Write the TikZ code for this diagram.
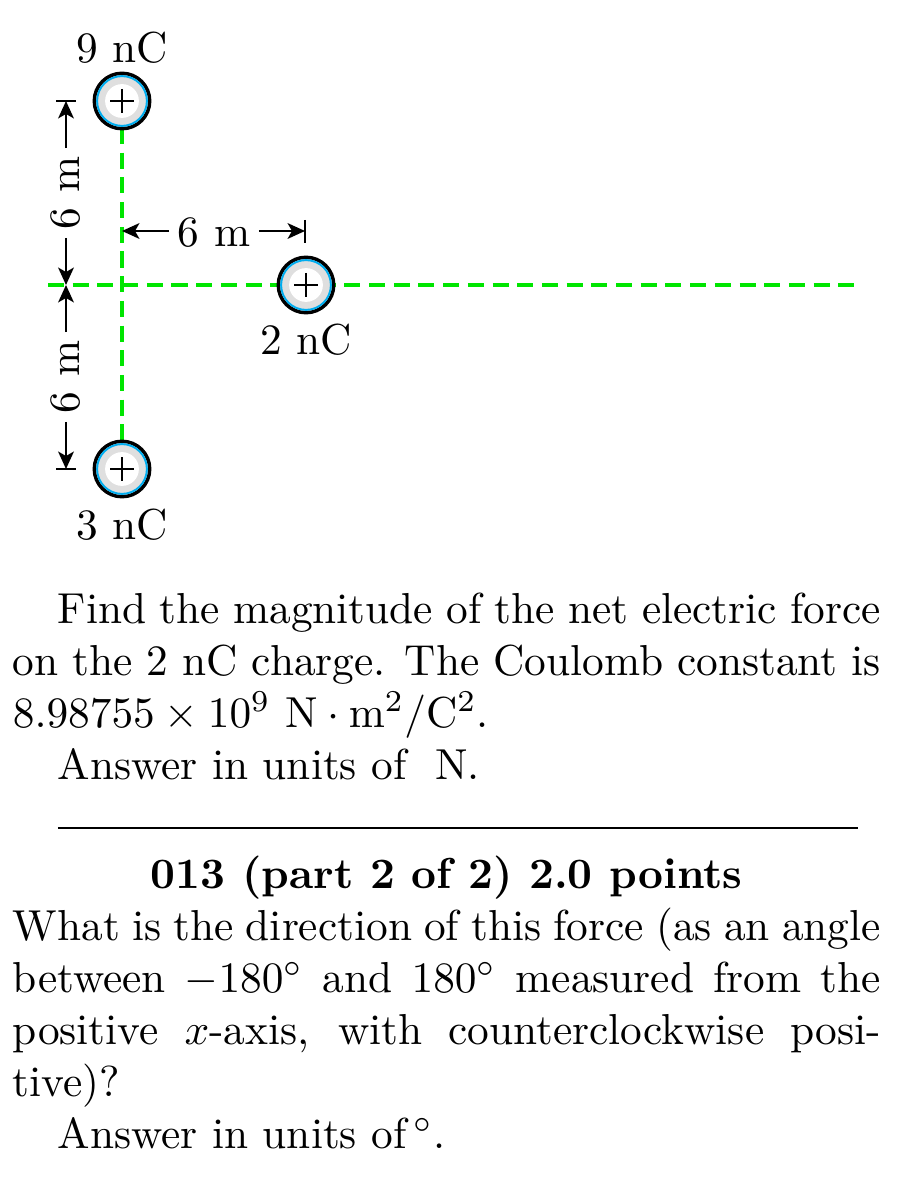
\documentclass[tikz,border=0pt]{standalone}
\usetikzlibrary{arrows.meta}
\begin{document}
\begin{tikzpicture}[x=0.2308pt,y=-0.2308pt,
  dashg/.style={green!90!black,line width=0.7pt,dash pattern=on 3.7pt off 2pt},
  dim/.style={line width=0.6pt,-{Stealth[length=4pt,width=3.6pt,inset=1pt]}},
  lbl/.style={inner sep=0pt,font=\normalsize}]
\useasboundingbox (0,0) rectangle (902,1181);
\draw[dashg] (48,285) -- (860,285);
\draw[dashg] (122,128) -- (122,442);
\foreach \n/\x/\y in {a/122/101,b/306/285,c/122/469}{
  \node[circle,minimum size=12.8pt,inner sep=0pt,draw=black,line width=0.8pt,fill=gray!25] (\n) at (\x,\y) {};
  \draw[cyan,line width=0.45pt] (\x,\y) circle (5.75pt);
  \fill[white] (\x,\y) circle (3.9pt);
  \draw[line width=0.4pt] (\x-12,\y) -- (\x+12,\y) (\x,\y-12) -- (\x,\y+12);
}
\node[lbl] (la) at (122,48) {9 nC};
\node[lbl] (lb) at (306,340) {2 nC};
\node[lbl] (lc) at (122,525) {3 nC};
% vertical dims
\draw[line width=0.6pt] (56,101) -- (76,101) (56,469) -- (76,469);
\node[lbl,rotate=90] (d1) at (66,193) {6 m};
\node[lbl,rotate=90] (d2) at (66,377) {6 m};
\coordinate (t1) at (66,101); \coordinate (m1) at (66,285); \coordinate (b1) at (66,469);
\draw[dim] (d1.east) ++(0,-8) -- (t1);
\draw[dim] (d1.west) ++(0,8) -- (m1);
\draw[dim] (d2.east) ++(0,-8) -- (m1);
\draw[dim] (d2.west) ++(0,8) -- (b1);
% horizontal dim
\draw[line width=0.6pt] (305,220) -- (305,243);
\node[lbl] (d3) at (214,233) {6 m};
\coordinate (h1) at (122,231); \coordinate (h2) at (305,231);
\draw[dim] (d3.west) ++(-8,-2) -- (h1);
\draw[dim] (d3.east) ++(8,-2) -- (h2);
% text
\node[anchor=north west,inner sep=0pt] (txt) at (12,592) {\parbox{200.3pt}{\setlength{\parindent}{10.4pt}%
Find the magnitude of the net electric force\linebreak on the 2~nC charge. The Coulomb constant is\linebreak $8.98755\times10^{9}~\mathrm{N\cdot m^2/C^2}$.\par
Answer in units of \ N.\par
\vspace{2.5pt}
\noindent\hspace*{10.4pt}\rule[3pt]{184.6pt}{0.4pt}\par
\vspace{-1.4pt}
\centerline{\bfseries 013 (part 2 of 2) 2.0 points}\par
\noindent What is the direction of this force (as an angle\linebreak between $-180^\circ$ and $180^\circ$ measured from the\linebreak positive $x$-axis, with counterclockwise posi-\linebreak tive)?\par
Answer in units of\,$^\circ$.}};
\end{tikzpicture}
\end{document}
